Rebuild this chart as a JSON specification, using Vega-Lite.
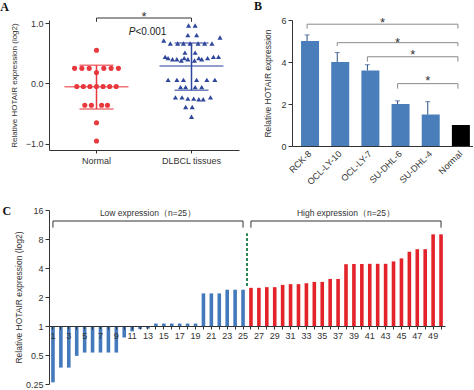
{
  "$schema": "https://vega.github.io/schema/vega-lite/v6.json",
  "padding": {"left": 0, "top": 0, "right": 0, "bottom": 0},
  "config": {
    "font": "Liberation Sans",
    "view": {"stroke": null},
    "axis": {"labelFont": "Liberation Sans", "titleFont": "Liberation Sans", "labelColor": "#333", "titleColor": "#333", "domainColor": "#333", "tickColor": "#333", "grid": false, "labelFontSize": 9, "titleFontSize": 8.5, "titleFontWeight": "normal", "labelOverlap": false},
    "title": {"font": "Liberation Serif", "fontSize": 12, "fontWeight": "bold", "anchor": "start", "frame": "bounds", "color": "#111", "offset": 2}
  },
  "resolve": {"scale": {"color": "independent", "shape": "independent", "xOffset": "independent"}},
  "datasets": {
    "scatter": [
      {"group": "Normal", "value": 0.55, "slot": 0},
      {"group": "Normal", "value": 0.25, "slot": -3},
      {"group": "Normal", "value": 0.25, "slot": -2},
      {"group": "Normal", "value": 0.25, "slot": -1},
      {"group": "Normal", "value": 0.25, "slot": 1},
      {"group": "Normal", "value": 0.25, "slot": 2},
      {"group": "Normal", "value": 0.25, "slot": 3},
      {"group": "Normal", "value": 0.18, "slot": 0},
      {"group": "Normal", "value": -0.05, "slot": -2.7},
      {"group": "Normal", "value": -0.05, "slot": -1.8},
      {"group": "Normal", "value": -0.05, "slot": -0.9},
      {"group": "Normal", "value": -0.05, "slot": 0},
      {"group": "Normal", "value": -0.05, "slot": 0.9},
      {"group": "Normal", "value": -0.05, "slot": 1.8},
      {"group": "Normal", "value": -0.05, "slot": 2.7},
      {"group": "Normal", "value": -0.36, "slot": -1.6},
      {"group": "Normal", "value": -0.36, "slot": -0.7},
      {"group": "Normal", "value": -0.36, "slot": 0.7},
      {"group": "Normal", "value": -0.36, "slot": 1.5},
      {"group": "Normal", "value": -0.65, "slot": 0},
      {"group": "Normal", "value": -0.95, "slot": 0},
      {"group": "DLBCL tissues", "value": 0.96, "slot": -0.4},
      {"group": "DLBCL tissues", "value": 0.96, "slot": 0.5},
      {"group": "DLBCL tissues", "value": 0.8, "slot": -0.5},
      {"group": "DLBCL tissues", "value": 0.8, "slot": 0.7},
      {"group": "DLBCL tissues", "value": 0.71, "slot": -3.8},
      {"group": "DLBCL tissues", "value": 0.76, "slot": 3.9},
      {"group": "DLBCL tissues", "value": 0.66, "slot": -2.9},
      {"group": "DLBCL tissues", "value": 0.66, "slot": -1.9},
      {"group": "DLBCL tissues", "value": 0.66, "slot": -1.1},
      {"group": "DLBCL tissues", "value": 0.66, "slot": -0.2},
      {"group": "DLBCL tissues", "value": 0.66, "slot": 0.9},
      {"group": "DLBCL tissues", "value": 0.66, "slot": 1.8},
      {"group": "DLBCL tissues", "value": 0.66, "slot": 2.8},
      {"group": "DLBCL tissues", "value": 0.51, "slot": -0.9},
      {"group": "DLBCL tissues", "value": 0.51, "slot": 0.5},
      {"group": "DLBCL tissues", "value": 0.44, "slot": -3.6},
      {"group": "DLBCL tissues", "value": 0.42, "slot": -3.2},
      {"group": "DLBCL tissues", "value": 0.4, "slot": -2.6},
      {"group": "DLBCL tissues", "value": 0.4, "slot": -2},
      {"group": "DLBCL tissues", "value": 0.38, "slot": -1.4},
      {"group": "DLBCL tissues", "value": 0.42, "slot": -1},
      {"group": "DLBCL tissues", "value": 0.4, "slot": -0.5},
      {"group": "DLBCL tissues", "value": 0.38, "slot": 0.4},
      {"group": "DLBCL tissues", "value": 0.42, "slot": 1},
      {"group": "DLBCL tissues", "value": 0.4, "slot": 1.4},
      {"group": "DLBCL tissues", "value": 0.42, "slot": 2.2},
      {"group": "DLBCL tissues", "value": 0.44, "slot": 3},
      {"group": "DLBCL tissues", "value": 0.44, "slot": 3.7},
      {"group": "DLBCL tissues", "value": 0.06, "slot": -3.2},
      {"group": "DLBCL tissues", "value": 0.06, "slot": -2},
      {"group": "DLBCL tissues", "value": 0.06, "slot": -1.1},
      {"group": "DLBCL tissues", "value": 0.06, "slot": 0.7},
      {"group": "DLBCL tissues", "value": 0.06, "slot": 2.1},
      {"group": "DLBCL tissues", "value": 0.06, "slot": 3.2},
      {"group": "DLBCL tissues", "value": -0.06, "slot": -1.5},
      {"group": "DLBCL tissues", "value": -0.06, "slot": -0.8},
      {"group": "DLBCL tissues", "value": -0.06, "slot": 0.5},
      {"group": "DLBCL tissues", "value": -0.06, "slot": 1.4},
      {"group": "DLBCL tissues", "value": -0.23, "slot": -2.2},
      {"group": "DLBCL tissues", "value": -0.23, "slot": -1.3},
      {"group": "DLBCL tissues", "value": -0.25, "slot": -0.5},
      {"group": "DLBCL tissues", "value": -0.25, "slot": 0.3},
      {"group": "DLBCL tissues", "value": -0.26, "slot": 1},
      {"group": "DLBCL tissues", "value": -0.26, "slot": 1.6},
      {"group": "DLBCL tissues", "value": -0.23, "slot": 2.6},
      {"group": "DLBCL tissues", "value": -0.39, "slot": -0.8},
      {"group": "DLBCL tissues", "value": -0.39, "slot": 0.1},
      {"group": "DLBCL tissues", "value": -0.55, "slot": 0}
    ],
    "stats": [
      {"group": "Normal", "mean": -0.055, "lo": -0.42, "hi": 0.3},
      {"group": "DLBCL tissues", "mean": 0.29, "lo": -0.11, "hi": 0.67}
    ],
    "sigA": [{"from": "Normal", "to": "DLBCL tissues", "star": "*", "p": "P", "rest": "<0.001"}],
    "cells": [
      {"line": "RCK-8", "value": 5.0, "upper": 5.29},
      {"line": "OCL-LY-10", "value": 4.0, "upper": 4.45},
      {"line": "OCL-LY-7", "value": 3.6, "upper": 3.87},
      {"line": "SU-DHL-6", "value": 2.0, "upper": 2.15},
      {"line": "SU-DHL-4", "value": 1.5, "upper": 2.11},
      {"line": "Normal", "value": 1.0, "upper": null}
    ],
    "pairs": [
      {"from": "RCK-8", "to": "Normal", "y": 5.8, "yend": 5.59},
      {"from": "OCL-LY-10", "to": "Normal", "y": 4.92, "yend": 4.76},
      {"from": "OCL-LY-7", "to": "Normal", "y": 4.25, "yend": 4.02},
      {"from": "SU-DHL-6", "to": "Normal", "y": 2.97, "yend": 2.73}
    ],
    "starsMid": [
      {"at": "SU-DHL-6", "y": 4.71, "label": "*"},
      {"at": "SU-DHL-4", "y": 2.89, "label": "*"}
    ],
    "starsEdge": [
      {"at": "OCL-LY-7", "y": 5.67, "label": "*"},
      {"at": "SU-DHL-6", "y": 4.16, "label": "*"}
    ],
    "samples": [
      {"sample": 1, "value": 0.26, "group": "Low"},
      {"sample": 2, "value": 0.37, "group": "Low"},
      {"sample": 3, "value": 0.37, "group": "Low"},
      {"sample": 4, "value": 0.49, "group": "Low"},
      {"sample": 5, "value": 0.53, "group": "Low"},
      {"sample": 6, "value": 0.53, "group": "Low"},
      {"sample": 7, "value": 0.53, "group": "Low"},
      {"sample": 8, "value": 0.53, "group": "Low"},
      {"sample": 9, "value": 0.53, "group": "Low"},
      {"sample": 10, "value": 0.76, "group": "Low"},
      {"sample": 11, "value": 0.88, "group": "Low"},
      {"sample": 12, "value": 0.93, "group": "Low"},
      {"sample": 13, "value": 0.94, "group": "Low"},
      {"sample": 14, "value": 1.06, "group": "Low"},
      {"sample": 15, "value": 1.06, "group": "Low"},
      {"sample": 16, "value": 1.06, "group": "Low"},
      {"sample": 17, "value": 1.06, "group": "Low"},
      {"sample": 18, "value": 1.06, "group": "Low"},
      {"sample": 19, "value": 1.06, "group": "Low"},
      {"sample": 20, "value": 2.18, "group": "Low"},
      {"sample": 21, "value": 2.18, "group": "Low"},
      {"sample": 22, "value": 2.18, "group": "Low"},
      {"sample": 23, "value": 2.38, "group": "Low"},
      {"sample": 24, "value": 2.38, "group": "Low"},
      {"sample": 25, "value": 2.38, "group": "Low"},
      {"sample": 26, "value": 2.49, "group": "High"},
      {"sample": 27, "value": 2.49, "group": "High"},
      {"sample": 28, "value": 2.53, "group": "High"},
      {"sample": 29, "value": 2.53, "group": "High"},
      {"sample": 30, "value": 2.67, "group": "High"},
      {"sample": 31, "value": 2.72, "group": "High"},
      {"sample": 32, "value": 2.72, "group": "High"},
      {"sample": 33, "value": 2.78, "group": "High"},
      {"sample": 34, "value": 2.87, "group": "High"},
      {"sample": 35, "value": 2.87, "group": "High"},
      {"sample": 36, "value": 3.08, "group": "High"},
      {"sample": 37, "value": 3.08, "group": "High"},
      {"sample": 38, "value": 4.38, "group": "High"},
      {"sample": 39, "value": 4.4, "group": "High"},
      {"sample": 40, "value": 4.4, "group": "High"},
      {"sample": 41, "value": 4.42, "group": "High"},
      {"sample": 42, "value": 4.42, "group": "High"},
      {"sample": 43, "value": 4.42, "group": "High"},
      {"sample": 44, "value": 4.68, "group": "High"},
      {"sample": 45, "value": 5.03, "group": "High"},
      {"sample": 46, "value": 5.9, "group": "High"},
      {"sample": 47, "value": 6.27, "group": "High"},
      {"sample": 48, "value": 6.27, "group": "High"},
      {"sample": 49, "value": 8.94, "group": "High"},
      {"sample": 50, "value": 8.94, "group": "High"}
    ],
    "groups": [
      {"label": "Low expression（n=25）", "from": 1, "to": 25, "mid": 13},
      {"label": "High expression（n=25）", "from": 26, "to": 50, "mid": 38}
    ],
    "divider": [{"sample": 25, "low": 2.6, "high": 9.2}]
  },
  "spacing": 18,
  "vconcat": [
    {
      "spacing": 53,
      "bounds": "flush",
      "hconcat": [
        {
          "title": {"text": "A", "dx": -10, "offset": -3},
          "width": 190,
          "height": 130,
          "encoding": {
            "x": {"field": "group", "type": "nominal", "scale": {"domain": ["Normal", "DLBCL tissues"], "paddingInner": 0, "paddingOuter": 0}, "axis": {"title": null, "labelAngle": 0, "tickSize": 3, "labelPadding": 3}}
          },
          "layer": [
            {
              "data": {"name": "scatter"},
              "mark": {"type": "point", "filled": true, "opacity": 1, "size": 26},
              "encoding": {
                "xOffset": {"field": "slot", "type": "quantitative", "scale": {"domain": [-6.5, 6.5]}},
                "y": {"field": "value", "type": "quantitative", "scale": {"domain": [-1.1, 1.05], "nice": false, "zero": false}, "axis": {"title": "Relative HOTAIR expression (log2)", "titleFontSize": 8, "titlePadding": 7, "values": [-1, -0.5, 0, 0.5, 1], "format": ".1f", "tickSize": 4}},
                "color": {"field": "group", "type": "nominal", "scale": {"domain": ["Normal", "DLBCL tissues"], "range": ["#e8383d", "#2e479c"]}, "legend": null},
                "shape": {"field": "group", "type": "nominal", "scale": {"domain": ["Normal", "DLBCL tissues"], "range": ["circle", "triangle-up"]}, "legend": null}
              }
            },
            {
              "data": {"name": "stats"},
              "mark": {"type": "rule", "strokeWidth": 1.5},
              "encoding": {"y": {"field": "lo", "type": "quantitative"}, "y2": {"field": "hi"}, "color": {"field": "group", "type": "nominal", "legend": null}}
            },
            {
              "data": {"name": "stats"},
              "mark": {"type": "tick", "size": 64, "thickness": 1.5},
              "encoding": {"y": {"field": "mean", "type": "quantitative"}, "color": {"field": "group", "type": "nominal", "legend": null}}
            },
            {
              "data": {"name": "stats"},
              "transform": [{"fold": ["lo", "hi"], "as": ["k", "v"]}],
              "mark": {"type": "tick", "size": 34, "thickness": 1.5},
              "encoding": {"y": {"field": "v", "type": "quantitative"}, "color": {"field": "group", "type": "nominal", "legend": null}}
            },
            {
              "data": {"name": "sigA"},
              "mark": {"type": "rule", "color": "#333", "strokeWidth": 1},
              "encoding": {"x": {"field": "from", "type": "nominal"}, "x2": {"field": "to"}, "y": {"datum": 1.083}}
            },
            {
              "data": {"name": "sigA"},
              "transform": [{"fold": ["from", "to"], "as": ["k", "g"]}],
              "mark": {"type": "rule", "color": "#333", "strokeWidth": 1},
              "encoding": {"x": {"field": "g", "type": "nominal"}, "y": {"datum": 1.083}, "y2": {"datum": 1.02}}
            },
            {
              "data": {"name": "sigA"},
              "mark": {"type": "text", "fontSize": 13, "baseline": "alphabetic", "color": "#333"},
              "encoding": {"x": {"field": "to", "type": "nominal", "bandPosition": 0}, "y": {"datum": 1.036}, "text": {"field": "star"}}
            },
            {
              "data": {"name": "sigA"},
              "mark": {"type": "text", "fontSize": 10, "fontStyle": "italic", "align": "left", "baseline": "middle", "color": "#222"},
              "encoding": {"x": {"field": "from", "type": "nominal", "bandPosition": 0.84}, "y": {"datum": 0.85}, "text": {"field": "p"}}
            },
            {
              "data": {"name": "sigA"},
              "mark": {"type": "text", "fontSize": 10, "align": "left", "baseline": "middle", "color": "#222"},
              "encoding": {"x": {"field": "from", "type": "nominal", "bandPosition": 0.91}, "y": {"datum": 0.85}, "text": {"field": "rest"}}
            }
          ]
        },
        {
          "title": {"text": "B", "dx": -10, "offset": 3},
          "width": 181,
          "height": 126,
          "encoding": {
            "x": {"field": "line", "type": "nominal", "scale": {"domain": ["RCK-8", "OCL-LY-10", "OCL-LY-7", "SU-DHL-6", "SU-DHL-4", "Normal"], "paddingInner": 0, "paddingOuter": 0}, "axis": {"title": null, "labelAngle": -45, "ticks": false, "labelPadding": 3}}
          },
          "layer": [
            {
              "data": {"name": "cells"},
              "mark": {"type": "bar", "width": {"band": 0.4}},
              "encoding": {
                "y": {"field": "value", "type": "quantitative", "scale": {"domain": [0, 6], "nice": false}, "axis": {"title": "Relative HOTAIR expression", "titlePadding": 8, "values": [0, 1, 2, 3, 4, 5, 6], "tickSize": 4}},
                "color": {"condition": {"test": "datum.line === 'Normal'", "value": "#000000"}, "value": "#4a7ebb"}
              }
            },
            {
              "data": {"name": "cells"},
              "transform": [{"filter": "datum.upper != null"}],
              "mark": {"type": "rule", "color": "#2b4f83"},
              "encoding": {"y": {"field": "value", "type": "quantitative"}, "y2": {"field": "upper"}}
            },
            {
              "data": {"name": "cells"},
              "transform": [{"filter": "datum.upper != null"}],
              "mark": {"type": "tick", "size": 5, "thickness": 1, "color": "#2b4f83"},
              "encoding": {"y": {"field": "upper", "type": "quantitative"}}
            },
            {
              "data": {"name": "pairs"},
              "mark": {"type": "rule", "color": "#8a8a8a"},
              "encoding": {"x": {"field": "from", "type": "nominal"}, "x2": {"field": "to"}, "y": {"field": "y", "type": "quantitative"}}
            },
            {
              "data": {"name": "pairs"},
              "transform": [{"fold": ["from", "to"], "as": ["k", "g"]}],
              "mark": {"type": "rule", "color": "#8a8a8a"},
              "encoding": {"x": {"field": "g", "type": "nominal"}, "y": {"field": "y", "type": "quantitative"}, "y2": {"field": "yend"}}
            },
            {
              "data": {"name": "starsMid"},
              "mark": {"type": "text", "fontSize": 13, "baseline": "alphabetic", "color": "#333"},
              "encoding": {"x": {"field": "at", "type": "nominal", "bandPosition": 0.5}, "y": {"field": "y", "type": "quantitative"}, "text": {"field": "label"}}
            },
            {
              "data": {"name": "starsEdge"},
              "mark": {"type": "text", "fontSize": 13, "baseline": "alphabetic", "color": "#333"},
              "encoding": {"x": {"field": "at", "type": "nominal", "bandPosition": 1}, "y": {"field": "y", "type": "quantitative"}, "text": {"field": "label"}}
            }
          ]
        }
      ]
    },
    {
      "title": {"text": "C", "dx": -12, "offset": -12},
      "width": 396,
      "height": 174,
      "encoding": {
        "x": {"field": "sample", "type": "ordinal", "scale": {"domain": [1,2,3,4,5,6,7,8,9,10,11,12,13,14,15,16,17,18,19,20,21,22,23,24,25,26,27,28,29,30,31,32,33,34,35,36,37,38,39,40,41,42,43,44,45,46,47,48,49,50], "paddingInner": 0, "paddingOuter": 0}, "axis": {"title": null, "offset": -58, "labelAngle": 0, "tickSize": 3, "labelPadding": 2, "zindex": 1, "labelExpr": "datum.value % 2 === 1 ? datum.label : ''"}}
      },
      "layer": [
        {
          "data": {"name": "samples"},
          "mark": {"type": "bar", "width": 3.6},
          "encoding": {
            "y": {"field": "value", "type": "quantitative", "scale": {"type": "log", "base": 2, "domain": [0.25, 16], "nice": false}, "axis": {"title": "Relative HOTAIR expression (log2)", "titlePadding": 2, "values": [0.25, 0.5, 1, 2, 4, 8, 16], "format": "~g", "tickSize": 4}},
            "y2": {"datum": 1},
            "color": {"field": "group", "type": "nominal", "scale": {"domain": ["Low", "High"], "range": ["#4479bb", "#e3222a"]}, "legend": null}
          }
        },
        {
          "data": {"name": "groups"},
          "mark": {"type": "rule", "color": "#333"},
          "encoding": {"x": {"field": "from", "type": "ordinal"}, "x2": {"field": "to"}, "y": {"datum": 12.3}}
        },
        {
          "data": {"name": "groups"},
          "transform": [{"fold": ["from", "to"], "as": ["k", "s"]}],
          "mark": {"type": "rule", "color": "#333"},
          "encoding": {"x": {"field": "s", "type": "ordinal"}, "y": {"datum": 12.3}, "y2": {"datum": 10.5}}
        },
        {
          "data": {"name": "groups"},
          "mark": {"type": "text", "fontSize": 8.5, "baseline": "middle", "color": "#333"},
          "encoding": {"x": {"field": "mid", "type": "ordinal"}, "y": {"datum": 14.9}, "text": {"field": "label"}}
        },
        {
          "data": {"name": "divider"},
          "mark": {"type": "rule", "color": "#2a8a55", "strokeWidth": 2, "strokeDash": [3, 2]},
          "encoding": {"x": {"field": "sample", "type": "ordinal", "bandPosition": 1}, "y": {"field": "low", "type": "quantitative"}, "y2": {"field": "high"}}
        }
      ]
    }
  ]
}
